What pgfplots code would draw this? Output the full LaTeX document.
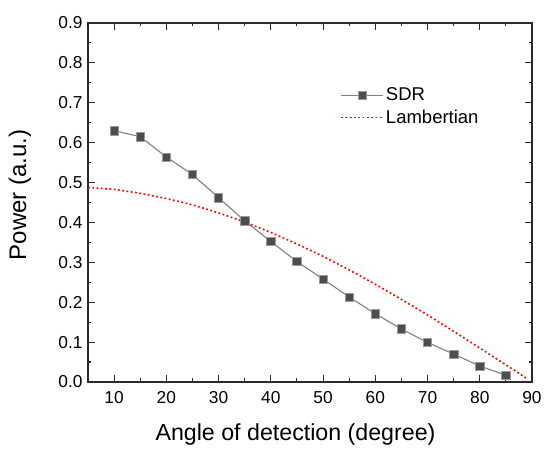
\documentclass[border=0pt]{standalone}
\usepackage{fontspec}
\setmainfont{Liberation Sans}
\usepackage{pgfplots}
\pgfplotsset{compat=1.18}

\definecolor{sdrline}{HTML}{808080}
\definecolor{sdrfill}{HTML}{4D4D4D}
\definecolor{sdredge}{HTML}{9A9A9A}
\definecolor{axline}{HTML}{2B2B2B}

\pgfplotsset{
    sdrleg/.style={legend image code/.code={
        \draw[##1, mark repeat=2, mark phase=2] plot coordinates {(0bp,0bp) (21bp,0bp) (42bp,0bp)};
    }},
    lamleg/.style={legend image code/.code={
        \draw[##1, line width=1.6bp, dash pattern=on 1.8bp off 2.5bp] (0bp,0bp) -- (42bp,0bp);
    }},
}

\begin{document}
\begin{tikzpicture}
\begin{axis}[
    scale only axis,
    width=444bp, height=359bp,
    xmin=5, xmax=90,
    ymin=0, ymax=0.9,
    xtick={10,20,...,90},
    ytick={0,0.1,...,0.9},
    minor tick num=1,
    tick align=inside,
    major tick length=7bp,
    minor tick length=3.5bp,
    axis line style={axline, line width=1.2bp},
    every tick/.style={axline, line width=1.1bp},
    /pgf/number format/assume math mode=true,
    yticklabel style={/pgf/number format/fixed, /pgf/number format/fixed zerofill, /pgf/number format/precision=1},
    ticklabel style={font=\fontsize{17.3bp}{20bp}\selectfont},
    xticklabel style={yshift=-6bp},
    yticklabel style={xshift=-2bp},
    xlabel={Angle of detection (degree)},
    ylabel={Power (a.u.)},
    xlabel style={font=\fontsize{23.2bp}{27bp}\selectfont,
        at={(axis description cs:0.5,0)}, anchor=center, yshift=-53bp, xshift=-14.5bp},
    ylabel style={font=\fontsize{24bp}{28bp}\selectfont,
        at={(axis description cs:0,0.5)}, anchor=center, xshift=7.5bp, yshift=68bp},
    legend style={at={(rel axis cs:0.568,0.825)}, anchor=north west, draw=none, fill=none,
        font=\fontsize{18.5bp}{22bp}\selectfont, row sep=3.5bp,
        inner sep=0pt, nodes={inner sep=2bp}},
    legend cell align=left,
]
\coordinate (ll) at (rel axis cs:0,0);
\coordinate (ur) at (rel axis cs:1,1);

\addplot[color=sdrline, line width=1.1bp, mark=square*,
    mark size=4.2bp, mark options={fill=sdrfill, draw=sdredge, line width=0.6bp},
    sdrleg]
coordinates {
    (10,0.630)(15,0.615)(20,0.564)(25,0.520)(30,0.462)(35,0.404)
    (40,0.352)(45,0.302)(50,0.258)(55,0.213)(60,0.171)(65,0.133)
    (70,0.099)(75,0.070)(80,0.040)(85,0.017)
};
\addlegendentry{SDR}

\addplot[color=red, line width=1.6bp, dash pattern=on 1.8bp off 2.5bp, lamleg]
coordinates {
    (5,0.488)(10,0.483)(15,0.473)(20,0.460)(25,0.444)(30,0.424)
    (35,0.401)(40,0.375)(45,0.346)(50,0.315)(55,0.281)(60,0.245)
    (65,0.207)(70,0.168)(75,0.127)(80,0.085)(85,0.043)(89,0.009)
};
\addlegendentry{Lambertian}
\end{axis}
\path[use as bounding box] ([shift={(-88bp,-70bp)}]ll) rectangle ([shift={(18bp,23bp)}]ur);
\end{tikzpicture}
\end{document}
